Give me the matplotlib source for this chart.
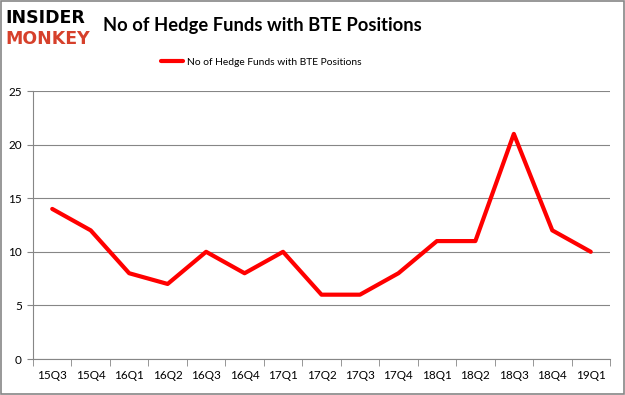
import matplotlib
matplotlib.use('Agg')
import matplotlib.pyplot as plt
from matplotlib.patches import Rectangle

quarters = ['15Q3', '15Q4', '16Q1', '16Q2', '16Q3', '16Q4', '17Q1', '17Q2',
            '17Q3', '17Q4', '18Q1', '18Q2', '18Q3', '18Q4', '19Q1']
funds = [14, 12, 8, 7, 10, 8, 10, 6, 6, 8, 11, 11, 21, 12, 10]
y_ticks = [0, 5, 10, 15, 20, 25]

title = 'No of Hedge Funds with BTE Positions'

fig = plt.figure(figsize=(6.25, 3.95), dpi=100)
ax = fig.add_axes([33 / 625, 1 - 359 / 395, (610 - 33) / 625, (359 - 91) / 395])

x = list(range(len(quarters)))
ax.plot(x, funds, color='#ff0000', linewidth=3, solid_joinstyle='round',
        solid_capstyle='round', label=title)

ax.set_xlim(-0.5, len(quarters) - 0.5)
ax.set_ylim(0, 25)
ax.set_yticks(y_ticks)
ax.set_xticks(x)
ax.set_xticklabels(quarters)
ax.set_xticks([i - 0.5 for i in range(len(quarters) + 1)], minor=True)
ax.grid(axis='y', color='#868686', linewidth=0.8)
ax.set_axisbelow(True)
for side in ['top', 'right']:
    ax.spines[side].set_visible(False)
for side in ['left', 'bottom']:
    ax.spines[side].set_color('#868686')
ax.tick_params(axis='x', which='major', length=0, pad=8, labelsize=8.5)
ax.tick_params(axis='x', which='minor', length=5, color='#868686')
ax.tick_params(axis='y', length=4, color='#868686', labelsize=8.5, pad=4)
for lbl in ax.get_xticklabels() + ax.get_yticklabels():
    lbl.set_family('Lato')

# title and legend
fig.text(262 / 625, 1 - 26 / 395, title, ha='center', va='center',
         fontsize=13.2, fontweight='bold', family='Lato')
fig.legend(*ax.get_legend_handles_labels(), loc='center',
           bbox_to_anchor=(261 / 625, 1 - 62 / 395), frameon=False,
           prop={'family': 'Lato', 'size': 7.4}, handlelength=2.2, handletextpad=0.3)

# logo
fig.text(5 / 625, 1 - 18 / 395, 'INSIDER', fontsize=12.5, fontweight='heavy',
         color='black', va='center', ha='left', family='DejaVu Sans')
fig.text(5 / 625, 1 - 39 / 395, 'MONKEY', fontsize=12.5, fontweight='heavy',
         color='#d6402b', va='center', ha='left', family='DejaVu Sans')

# figure border
fig.patches.append(Rectangle((0.001, 0.002), 0.997, 0.996, transform=fig.transFigure,
                             fill=False, edgecolor='#868686', linewidth=1.2))

fig.savefig('out.png', dpi=100)
